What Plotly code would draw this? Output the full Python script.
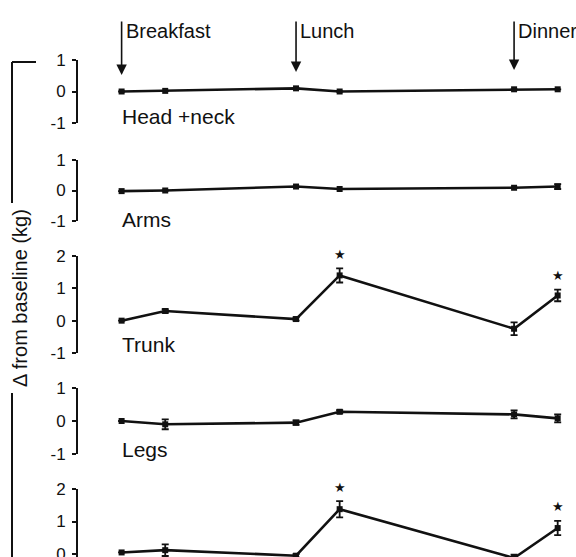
import plotly.graph_objects as go

W, H = 576, 557

times = [0, 1, 4, 5, 9, 10]
meal_times = [0, 4, 9]
meal_labels = ["Breakfast", "Lunch", "Dinner"]

panel_names = ["Head +neck", "Arms", "Trunk", "Legs", ""]
head = [0.0, 0.02, 0.10, 0.0, 0.07, 0.07]
head_err = [0, 0, 0, 0, 0, 0]
arms = [-0.02, 0.0, 0.13, 0.05, 0.09, 0.13]
arms_err = [0, 0, 0, 0, 0, 0.08]
trunk = [0.0, 0.30, 0.05, 1.40, -0.25, 0.78]
trunk_err = [0, 0.06, 0.05, 0.22, 0.20, 0.18]
legs = [0.0, -0.10, -0.05, 0.28, 0.20, 0.08]
legs_err = [0, 0.15, 0.07, 0.05, 0.12, 0.12]
total = [0.05, 0.12, -0.05, 1.38, -0.12, 0.80]
total_err = [0, 0.18, 0.05, 0.25, 0.10, 0.22]
sig_idx = {2: [3, 5], 4: [3, 5]}

series = [head, arms, trunk, legs, total]
errors = [head_err, arms_err, trunk_err, legs_err, total_err]
yticks = [[-1, 0, 1], [-1, 0, 1], [-1, 0, 1, 2], [-1, 0, 1], [0, 1, 2]]
yranges = [[-1, 1], [-1, 1], [-1, 2], [-1, 1], [-0.09, 2]]
# pixel extents (top, bottom) of each panel
panel_px = [(60, 123), (160, 221), (256, 353), (388, 454), (489, 557)]
label_shift = [6, 2, 8, 5, 0]

FONT = "Liberation Sans, Arial, Helvetica, sans-serif"

fig = go.Figure()
layout = dict(
    template="none",
    width=W, height=H, margin=dict(l=0, r=0, t=0, b=0, pad=0, autoexpand=False),
    paper_bgcolor="white", plot_bgcolor="white", showlegend=False,
    font=dict(family=FONT, color="#111", size=16),
)
annotations = []
x0 = 78 / W
xr = [-1.0, 10.42]
for i, (ys, es) in enumerate(zip(series, errors)):
    n = "" if i == 0 else str(i + 1)
    fig.add_trace(go.Scatter(
        x=times, y=ys, mode="lines+markers", xaxis="x" + n, yaxis="y" + n,
        line=dict(color="#111", width=2.6),
        marker=dict(color="#111", size=6, symbol="square"),
        error_y=dict(type="data", array=es, color="#111", thickness=1.8, width=3.5, visible=True),
    ))
    top, bot = panel_px[i]
    layout["xaxis" + n] = dict(domain=[x0, 1], range=xr, visible=False, anchor="y" + n,
                               automargin=False)
    layout["yaxis" + n] = dict(
        domain=[1 - bot / H, 1 - top / H], range=yranges[i], anchor="x" + n,
        tickvals=yticks[i], ticktext=[str(v) for v in yticks[i]],
        showline=True, linecolor="#111", linewidth=1.8, ticks="outside",
        ticklen=4, tickwidth=1.8, tickcolor="#111", showgrid=False, zeroline=False,
        tickfont=dict(size=17, family=FONT, color="#111"), ticklabelstandoff=3,
        ticklabeloverflow="allow", automargin=False,
    )
    if panel_names[i]:
        annotations.append(dict(
            text=panel_names[i], x=times[0], xref="x" + n, y=0, yref="y" + n + " domain",
            xanchor="left", yanchor="middle", yshift=label_shift[i], xshift=-2, showarrow=False,
            font=dict(size=21, family=FONT, color="#111"),
        ))
    for k in sig_idx.get(i, []):
        annotations.append(dict(
            text="★", x=times[k], xref="x" + n, y=ys[k] + es[k], yref="y" + n,
            xanchor="center", yanchor="middle", yshift=14, showarrow=False,
            font=dict(size=13, family="DejaVu Sans", color="#111"),
        ))

arrow_tip = [75, 72, 70]
for t, lab, tip in zip(meal_times, meal_labels, arrow_tip):
    annotations.append(dict(
        text="", x=t, xref="x", y=1 - tip / H, yref="paper", ax=0, ay=-(tip - 20),
        showarrow=True, arrowhead=2, arrowsize=1.3, arrowwidth=1.6, arrowcolor="#111",
        standoff=0,
    ))
    annotations.append(dict(
        text=lab, x=t, xref="x", y=1 - 31 / H, yref="paper", xanchor="left",
        yanchor="middle", xshift=2, showarrow=False,
        font=dict(size=20, family=FONT, color="#111"),
    ))

annotations.append(dict(
    text="Δ from baseline (kg)", x=20 / W, y=1 - 298 / H, xref="paper", yref="paper",
    textangle=-90, showarrow=False, xanchor="center", yanchor="middle",
    font=dict(size=20, family=FONT, color="#111"),
))

lw = dict(color="#111", width=2)
shapes = [
    dict(type="line", xref="paper", yref="paper", x0=12 / W, x1=36 / W, y0=1 - 62 / H, y1=1 - 62 / H, line=lw),
    dict(type="line", xref="paper", yref="paper", x0=12 / W, x1=12 / W, y0=1 - 62 / H, y1=1 - 203 / H, line=lw),
    dict(type="line", xref="paper", yref="paper", x0=12 / W, x1=12 / W, y0=1 - 393 / H, y1=0, line=lw),
]
layout["annotations"] = annotations
layout["shapes"] = shapes
fig.update_layout(**layout)
fig.write_html("out.html")
